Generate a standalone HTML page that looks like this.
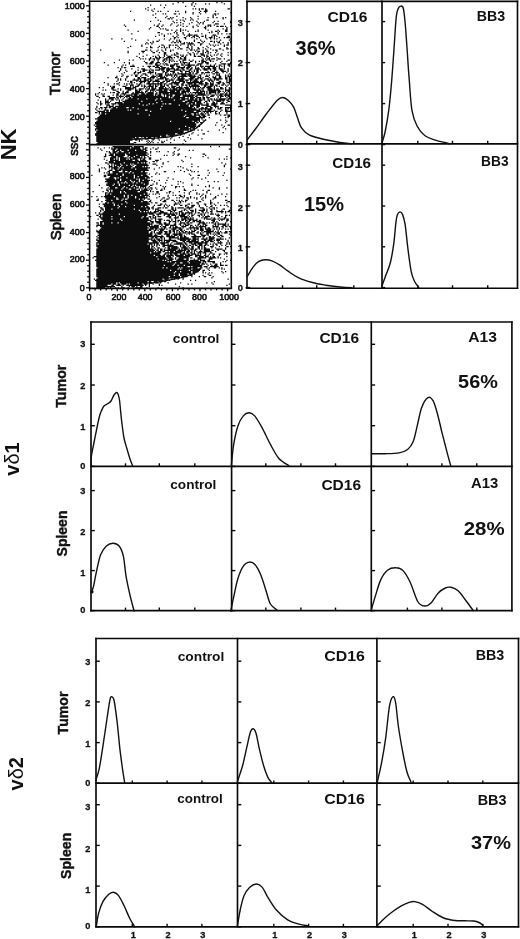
<!DOCTYPE html>
<html><head><meta charset="utf-8"><style>
html,body{margin:0;padding:0;background:#fff;}
svg{display:block;}
text{font-family:"Liberation Sans", Arial, Helvetica, sans-serif;fill:#111;}
</style></head><body>
<svg width="520" height="939" viewBox="0 0 520 939">
<defs><filter id="b" x="0" y="0" width="1" height="1"><feGaussianBlur stdDeviation="0.35"/></filter></defs><g filter="url(#b)"><path d="M130 139.3C140 139.1 150 138.7 165 137.4S184 133.4 190 131.4S200 125.5 206 119.5M150 283.4C160 281.8 170 280 178 278.4S191 275 195 273S201.5 268 202.5 263" fill="none" stroke="#0b0b0b" stroke-width="1.3"/><path transform="translate(90,2.625) scale(1.25)" fill="none" stroke="#0b0b0b" stroke-width="1" d="M70 0h1M74 0h1M82 0h1M101 0h1M105 0h1M66 1h1M81 1h1M84 1h1M92 1h1M95 1h1M107 1h1M48 2h1M56 2h1M60 2h1M81 2h1M76 3h1M83 3h1M46 4h1M59 4h1M44 5h1M51 5h1M82 5h1M84 5h1M87 5h1M89 5h2M92 5h1M110 5h2M46 6h1M49 6h1M87 6h1M92 6h2M32 7h1M50 7h1M54 7h1M56 7h1M62 7h1M68 7h1M70 7h1M76 7h1M88 7h1M91 7h3M100 7h1M76 8h1M82 8h1M87 8h1M92 8h1M112 8h1M52 9h1M58 9h1M60 9h1M67 9h2M71 9h1M82 9h1M88 9h1M99 9h2M102 9h1M50 10h1M98 10h1M100 10h1M61 11h1M69 11h1M86 11h1M98 11h1M52 12h1M60 12h1M64 12h1M66 12h1M74 12h1M80 12h1M94 12h1M98 12h1M101 12h1M106 12h1M108 12h1M62 13h2M65 13h1M76 13h1M81 13h1M86 13h1M106 13h1M35 14h1M54 14h1M69 14h1M72 14h1M74 14h1M80 14h1M82 14h1M93 14h2M48 15h1M56 15h1M66 15h1M75 15h1M85 15h1M91 15h1M99 15h1M102 15h1M112 15h1M67 16h1M69 16h1M72 16h1M81 16h1M86 16h1M88 16h1M90 16h1M98 16h1M112 16h1M55 17h1M65 17h1M74 17h1M79 17h1M87 17h1M90 17h1M100 17h3M107 17h1M27 18h1M51 18h1M54 18h1M58 18h1M64 18h1M70 18h1M72 18h1M85 18h1M94 18h3M99 18h1M28 19h1M53 19h2M57 19h1M69 19h1M74 19h1M77 19h1M82 19h1M86 19h1M92 19h1M94 19h1M96 19h1M101 19h2M104 19h3M108 19h1M112 19h1M48 20h1M55 20h1M82 20h1M91 20h2M109 20h1M47 21h1M56 21h1M58 21h1M60 21h1M72 21h1M92 21h1M106 21h1M109 21h1M30 22h1M61 22h2M65 22h1M69 22h1M72 22h1M74 22h1M76 22h1M86 22h1M94 22h1M102 22h1M108 22h2M38 23h1M68 23h1M72 23h1M78 23h1M84 23h1M86 23h1M97 23h1M100 23h2M103 23h1M108 23h2M54 24h2M67 24h1M69 24h1M74 24h1M95 24h1M97 24h1M102 24h1M33 25h1M57 25h1M62 25h1M64 25h1M69 25h1M74 25h1M79 25h1M89 25h1M102 25h1M105 25h1M109 25h1M111 25h2M55 26h1M59 26h1M70 26h1M75 26h1M78 26h4M83 26h3M92 26h1M98 26h3M52 27h1M59 27h1M66 27h1M69 27h1M77 27h1M79 27h1M82 27h2M85 27h2M89 27h2M92 27h1M97 27h1M99 27h1M101 27h1M110 27h2M67 28h2M70 28h1M75 28h2M81 28h1M83 28h1M87 28h1M92 28h1M95 28h3M99 28h1M103 28h1M107 28h1M109 28h3M17 29h1M25 29h1M33 29h1M59 29h1M64 29h1M67 29h1M76 29h1M85 29h1M93 29h1M96 29h1M99 29h1M101 29h1M112 29h1M36 30h1M46 30h1M55 30h1M63 30h1M69 30h1M71 30h1M83 30h1M88 30h1M104 30h1M111 30h1M27 31h1M50 31h1M53 31h2M66 31h1M69 31h1M71 31h2M83 31h1M89 31h1M91 31h1M96 31h2M99 31h1M101 31h1M103 31h1M112 31h1M45 32h1M48 32h1M50 32h1M65 32h1M67 32h2M70 32h1M72 32h1M75 32h1M77 32h1M79 32h1M81 32h1M86 32h2M90 32h1M99 32h1M102 32h2M106 32h1M110 32h1M112 32h1M44 33h1M46 33h1M49 33h1M73 33h3M78 33h5M88 33h2M95 33h1M104 33h1M110 33h1M41 34h1M57 34h2M63 34h2M66 34h1M68 34h2M72 34h1M78 34h1M80 34h1M83 34h1M88 34h1M96 34h1M98 34h1M100 34h1M102 34h1M107 34h1M109 34h2M32 35h1M41 35h1M48 35h1M55 35h1M59 35h1M63 35h1M70 35h1M78 35h1M81 35h1M93 35h1M99 35h1M107 35h1M30 36h1M45 36h1M48 36h2M54 36h1M57 36h1M59 36h1M61 36h1M63 36h1M68 36h1M71 36h1M77 36h2M81 36h1M86 36h1M90 36h1M94 36h1M109 36h1M60 37h1M70 37h1M72 37h2M79 37h1M81 37h1M86 37h2M92 37h1M96 37h1M103 37h2M109 37h2M112 37h1M8 38h1M44 38h2M48 38h1M54 38h1M57 38h1M60 38h1M64 38h1M66 38h1M77 38h1M80 38h2M83 38h1M85 38h1M90 38h1M93 38h1M98 38h1M100 38h2M106 38h1M30 39h1M41 39h3M49 39h1M53 39h1M58 39h1M64 39h1M84 39h1M86 39h2M90 39h1M93 39h2M101 39h1M30 40h1M42 40h1M50 40h2M55 40h1M59 40h2M69 40h1M78 40h1M82 40h1M86 40h1M90 40h1M92 40h1M94 40h1M96 40h1M100 40h1M110 40h1M112 40h1M39 41h1M59 41h2M67 41h1M69 41h2M79 41h2M83 41h1M85 41h1M88 41h3M94 41h1M102 41h1M105 41h1M45 42h1M54 42h1M59 42h1M61 42h1M65 42h1M67 42h2M72 42h1M74 42h1M77 42h1M80 42h1M83 42h1M89 42h3M93 42h1M96 42h1M99 42h1M101 42h1M104 42h1M110 42h1M37 43h1M42 43h1M50 43h1M52 43h1M55 43h1M59 43h1M62 43h3M69 43h2M73 43h2M76 43h1M83 43h2M86 43h3M91 43h1M93 43h2M97 43h1M105 43h1M39 44h1M48 44h1M52 44h2M55 44h2M58 44h1M61 44h5M67 44h1M70 44h1M72 44h1M75 44h2M89 44h1M93 44h1M95 44h1M101 44h1M40 45h1M42 45h1M44 45h1M47 45h2M50 45h2M53 45h3M59 45h3M63 45h1M65 45h1M72 45h2M75 45h2M90 45h1M92 45h1M94 45h2M97 45h3M102 45h3M107 45h1M23 46h1M31 46h1M34 46h1M47 46h1M51 46h1M54 46h1M58 46h2M61 46h1M63 46h2M66 46h1M71 46h1M74 46h3M79 46h1M82 46h1M89 46h2M93 46h1M95 46h2M101 46h1M110 46h2M43 47h1M49 47h2M54 47h1M58 47h1M60 47h1M63 47h1M65 47h1M67 47h1M69 47h1M72 47h1M74 47h1M80 47h2M84 47h1M87 47h1M89 47h4M96 47h1M98 47h1M105 47h1M109 47h1M11 48h1M19 48h1M27 48h1M31 48h1M44 48h2M48 48h3M53 48h3M59 48h1M63 48h1M72 48h1M74 48h4M79 48h1M84 48h1M89 48h2M92 48h3M104 48h1M112 48h1M31 49h1M45 49h1M47 49h3M52 49h2M56 49h1M58 49h1M60 49h2M67 49h4M73 49h1M75 49h1M78 49h2M86 49h4M93 49h2M100 49h1M105 49h4M110 49h3M14 50h1M26 50h1M28 50h1M34 50h1M52 50h4M59 50h1M61 50h2M64 50h4M69 50h1M73 50h2M76 50h8M85 50h2M88 50h1M96 50h1M99 50h1M103 50h2M107 50h1M110 50h2M25 51h1M32 51h4M42 51h1M46 51h3M50 51h2M53 51h2M56 51h2M64 51h3M69 51h3M75 51h1M78 51h3M84 51h1M88 51h3M92 51h8M101 51h1M103 51h1M105 51h1M107 51h1M111 51h1M22 52h1M25 52h1M27 52h2M38 52h1M47 52h1M52 52h4M57 52h4M62 52h1M65 52h2M70 52h6M77 52h3M81 52h1M84 52h1M86 52h1M89 52h1M91 52h1M94 52h2M98 52h3M103 52h1M107 52h1M24 53h1M33 53h1M41 53h3M48 53h1M55 53h5M61 53h7M69 53h2M73 53h2M77 53h2M80 53h2M84 53h4M90 53h7M98 53h3M103 53h3M107 53h1M110 53h1M24 54h1M28 54h1M38 54h1M42 54h4M47 54h1M49 54h2M52 54h4M57 54h2M61 54h3M67 54h6M74 54h2M79 54h2M83 54h1M85 54h2M88 54h1M91 54h3M96 54h1M99 54h2M104 54h3M110 54h1M23 55h1M29 55h1M36 55h1M40 55h1M42 55h2M47 55h2M50 55h1M58 55h2M61 55h2M64 55h4M72 55h2M76 55h4M81 55h1M83 55h1M85 55h2M94 55h1M98 55h2M101 55h1M105 55h4M110 55h1M27 56h1M35 56h2M38 56h3M46 56h5M52 56h1M58 56h1M60 56h2M66 56h2M70 56h1M73 56h1M76 56h1M79 56h2M82 56h1M85 56h2M89 56h2M92 56h4M97 56h1M100 56h3M106 56h1M109 56h1M25 57h1M35 57h1M38 57h1M42 57h3M48 57h1M52 57h1M54 57h4M60 57h1M62 57h1M64 57h1M66 57h1M68 57h1M70 57h11M82 57h1M84 57h2M89 57h1M91 57h1M98 57h2M101 57h1M103 57h1M111 57h1M26 58h1M33 58h1M36 58h2M41 58h1M44 58h2M50 58h1M53 58h1M55 58h3M60 58h6M67 58h3M73 58h4M78 58h4M83 58h1M87 58h2M93 58h1M95 58h1M101 58h3M108 58h1M110 58h1M112 58h1M21 59h1M25 59h1M29 59h2M36 59h2M40 59h1M46 59h1M49 59h4M54 59h4M59 59h1M61 59h1M65 59h1M67 59h1M69 59h1M71 59h7M79 59h6M86 59h1M88 59h1M92 59h3M98 59h1M100 59h1M103 59h2M108 59h1M110 59h3M14 60h1M20 60h2M29 60h1M38 60h2M41 60h4M48 60h4M53 60h1M56 60h5M66 60h1M68 60h1M70 60h2M73 60h2M80 60h4M86 60h3M90 60h1M95 60h1M98 60h3M103 60h2M108 60h2M111 60h1M22 61h1M24 61h1M28 61h1M35 61h1M38 61h3M43 61h2M46 61h3M50 61h1M54 61h5M60 61h3M65 61h1M67 61h1M70 61h6M79 61h4M84 61h3M88 61h2M92 61h3M96 61h1M99 61h7M108 61h2M111 61h2M22 62h1M24 62h1M28 62h1M34 62h5M40 62h1M43 62h4M48 62h2M52 62h3M60 62h2M63 62h4M69 62h6M76 62h3M80 62h2M83 62h3M89 62h1M91 62h1M94 62h4M99 62h1M101 62h2M109 62h1M111 62h2M21 63h1M30 63h1M32 63h2M37 63h1M39 63h6M46 63h3M50 63h6M58 63h2M61 63h3M66 63h1M68 63h1M71 63h5M77 63h1M80 63h1M82 63h5M88 63h3M95 63h1M97 63h2M103 63h2M109 63h1M111 63h2M11 64h1M23 64h1M32 64h2M35 64h1M40 64h2M43 64h1M46 64h2M50 64h1M54 64h1M56 64h3M61 64h1M65 64h7M74 64h2M77 64h13M92 64h2M96 64h1M98 64h1M101 64h4M106 64h1M109 64h3M14 65h1M19 65h1M21 65h2M27 65h1M29 65h1M31 65h1M33 65h1M37 65h1M39 65h2M45 65h13M59 65h2M63 65h3M67 65h4M73 65h2M78 65h4M83 65h2M87 65h4M92 65h3M96 65h3M102 65h2M106 65h2M111 65h1M14 66h1M23 66h1M29 66h1M32 66h3M38 66h2M41 66h1M43 66h1M47 66h2M50 66h1M52 66h1M54 66h1M56 66h2M59 66h1M61 66h2M65 66h1M69 66h2M73 66h2M76 66h2M79 66h1M81 66h6M89 66h1M91 66h3M96 66h3M100 66h2M105 66h2M108 66h1M110 66h1M112 66h1M16 67h1M18 67h2M26 67h3M32 67h1M34 67h1M36 67h3M41 67h1M43 67h2M46 67h5M52 67h2M56 67h4M62 67h1M65 67h4M71 67h1M73 67h1M77 67h1M79 67h9M91 67h2M94 67h4M99 67h1M101 67h1M103 67h1M109 67h1M7 68h1M10 68h1M17 68h3M28 68h5M34 68h3M43 68h1M45 68h1M47 68h1M49 68h2M52 68h1M55 68h4M60 68h1M63 68h1M65 68h3M69 68h5M75 68h4M80 68h1M82 68h1M84 68h1M86 68h1M88 68h1M90 68h2M93 68h4M99 68h1M104 68h2M108 68h1M111 68h1M17 69h2M22 69h1M24 69h1M28 69h7M36 69h1M39 69h4M44 69h1M46 69h2M49 69h4M55 69h8M64 69h1M66 69h4M71 69h4M76 69h4M82 69h3M86 69h2M89 69h2M94 69h4M99 69h1M101 69h2M104 69h3M108 69h1M111 69h2M10 70h1M12 70h1M18 70h3M24 70h1M30 70h3M36 70h2M39 70h2M45 70h2M48 70h4M53 70h5M59 70h3M63 70h10M74 70h2M77 70h3M83 70h6M90 70h1M94 70h10M108 70h4M21 71h2M26 71h1M29 71h2M36 71h4M41 71h1M44 71h2M48 71h1M50 71h1M52 71h1M55 71h7M64 71h4M69 71h3M73 71h7M85 71h2M88 71h4M93 71h1M95 71h6M102 71h3M106 71h1M108 71h1M110 71h2M7 72h1M16 72h1M18 72h2M22 72h2M26 72h1M28 72h3M34 72h1M36 72h7M44 72h1M46 72h5M53 72h1M55 72h17M73 72h4M78 72h1M80 72h1M82 72h8M91 72h1M93 72h1M95 72h6M102 72h2M107 72h1M109 72h1M111 72h1M4 73h1M6 73h1M9 73h1M11 73h1M21 73h2M25 73h4M33 73h6M41 73h3M45 73h6M52 73h2M55 73h2M58 73h5M64 73h11M76 73h1M79 73h1M81 73h1M84 73h1M86 73h6M93 73h1M95 73h2M100 73h1M102 73h1M104 73h3M108 73h2M111 73h2M4 74h1M10 74h1M18 74h1M21 74h2M24 74h1M27 74h1M29 74h5M35 74h3M39 74h12M52 74h1M54 74h3M59 74h1M61 74h5M68 74h5M74 74h10M85 74h8M94 74h1M97 74h3M101 74h1M103 74h3M107 74h5M5 75h2M10 75h2M14 75h2M21 75h1M23 75h4M28 75h4M33 75h25M59 75h1M61 75h2M64 75h2M67 75h5M74 75h9M84 75h2M90 75h1M93 75h1M96 75h3M102 75h1M104 75h3M108 75h1M110 75h2M7 76h1M15 76h5M21 76h2M24 76h1M27 76h1M29 76h1M31 76h2M34 76h29M64 76h1M66 76h10M78 76h1M80 76h4M85 76h4M90 76h2M93 76h3M102 76h1M104 76h1M109 76h1M111 76h2M12 77h1M15 77h4M20 77h1M22 77h1M26 77h1M30 77h8M39 77h6M46 77h7M54 77h2M57 77h15M73 77h6M80 77h3M84 77h2M87 77h2M90 77h2M94 77h1M96 77h2M99 77h1M101 77h1M103 77h6M110 77h3M6 78h1M12 78h1M14 78h1M17 78h2M21 78h1M23 78h1M25 78h1M28 78h24M53 78h14M68 78h8M78 78h8M87 78h3M91 78h1M94 78h2M97 78h1M99 78h9M109 78h2M8 79h1M12 79h3M16 79h1M23 79h1M26 79h15M42 79h15M58 79h16M76 79h6M83 79h6M92 79h2M95 79h1M98 79h1M101 79h4M106 79h1M110 79h2M5 80h1M8 80h1M12 80h4M20 80h6M27 80h26M54 80h24M79 80h5M85 80h4M91 80h1M93 80h1M98 80h2M101 80h1M105 80h2M109 80h1M6 81h1M8 81h2M12 81h1M14 81h1M17 81h4M22 81h17M40 81h7M48 81h2M51 81h7M59 81h1M61 81h2M65 81h12M78 81h3M82 81h2M85 81h5M93 81h2M97 81h5M104 81h4M8 82h1M13 82h3M18 82h1M23 82h19M43 82h2M46 82h25M72 82h7M80 82h8M89 82h6M97 82h4M108 82h5M5 83h1M13 83h1M15 83h4M20 83h37M58 83h21M80 83h3M85 83h3M93 83h4M99 83h4M112 83h1M5 84h1M8 84h2M11 84h3M15 84h2M18 84h3M22 84h7M31 84h3M35 84h47M83 84h1M85 84h2M89 84h2M92 84h2M96 84h2M100 84h1M102 84h1M104 84h2M108 84h5M4 85h1M7 85h1M9 85h1M12 85h1M17 85h21M39 85h17M57 85h28M87 85h11M102 85h3M108 85h1M110 85h1M112 85h1M5 86h1M11 86h4M16 86h14M31 86h1M33 86h11M46 86h27M74 86h14M89 86h1M92 86h1M94 86h3M99 86h1M105 86h1M108 86h2M112 86h1M6 87h6M13 87h2M16 87h32M49 87h27M77 87h6M85 87h4M90 87h9M100 87h2M104 87h1M108 87h5M4 88h2M7 88h1M9 88h78M89 88h1M91 88h1M93 88h2M96 88h1M100 88h1M103 88h1M109 88h1M7 89h1M9 89h3M13 89h25M39 89h42M83 89h2M86 89h1M88 89h3M92 89h1M94 89h1M100 89h2M103 89h1M109 89h1M8 90h39M48 90h28M77 90h5M83 90h5M89 90h3M94 90h2M104 90h1M107 90h2M110 90h2M7 91h68M76 91h9M87 91h2M90 91h3M110 91h2M6 92h71M79 92h13M95 92h1M108 92h1M110 92h1M4 93h84M89 93h1M6 94h82M90 94h1M92 94h1M104 94h1M108 94h1M5 95h59M65 95h17M83 95h3M87 95h1M109 95h1M4 96h80M85 96h2M88 96h2M101 96h1M108 96h1M4 97h81M3 98h1M5 98h80M87 98h1M100 98h1M105 98h1M110 98h2M4 99h72M77 99h8M86 99h2M107 99h1M5 100h74M80 100h4M85 100h1M106 100h1M4 101h67M72 101h9M82 101h2M108 101h1M4 102h1M6 102h73M80 102h2M83 102h1M86 102h1M89 102h1M103 102h1M5 103h70M78 103h3M94 103h1M5 104h70M76 104h2M82 104h1M106 104h1M4 105h64M70 105h4M75 105h1M81 105h1M90 105h2M4 106h57M62 106h8M72 106h1M79 106h1M86 106h1M5 107h51M57 107h4M64 107h3M74 107h1M5 108h31M37 108h2M41 108h1M43 108h2M46 108h3M51 108h1M54 108h2M61 108h1M65 108h1M71 108h1M78 108h1M5 109h29M35 109h6M44 109h2M49 109h3M54 109h1M64 109h1M80 109h1M89 109h1M5 110h29M36 110h2M39 110h1M41 110h1M46 110h1M50 110h1M55 110h1M61 110h1M67 110h1M75 110h1M5 111h27M39 111h1M45 111h1M47 111h1M49 111h1M57 111h1M59 111h1M76 111h1M6 112h26M35 112h2M46 112h1M48 112h1M50 112h1M54 112h1M57 112h2M64 112h1M5 113h30M45 113h1M47 113h1M74 113h1"/><path transform="translate(90,146.625) scale(1.25)" fill="none" stroke="#0b0b0b" stroke-width="1" d="M18 0h16M35 0h8M96 0h1M103 0h1M6 1h1M11 1h1M15 1h1M17 1h1M19 1h13M33 1h7M42 1h1M44 1h2M50 1h1M54 1h1M67 1h2M8 2h1M17 2h4M22 2h19M42 2h3M48 2h1M52 2h2M71 2h1M111 2h2M9 3h1M18 3h2M21 3h3M25 3h5M31 3h5M37 3h6M44 3h2M70 3h1M79 3h1M82 3h1M13 4h1M15 4h1M18 4h4M23 4h2M27 4h18M48 4h1M53 4h1M55 4h1M62 4h1M67 4h1M15 5h2M18 5h3M22 5h9M32 5h14M48 5h1M66 5h1M12 6h1M16 6h3M20 6h8M29 6h16M46 6h1M67 6h1M70 6h2M90 6h2M12 7h1M15 7h4M20 7h8M30 7h7M38 7h8M48 7h1M59 7h1M61 7h1M66 7h1M70 7h1M92 7h1M11 8h2M17 8h4M22 8h5M30 8h1M32 8h3M36 8h4M41 8h1M43 8h1M46 8h1M76 8h1M90 8h1M109 8h1M16 9h5M22 9h1M24 9h6M31 9h2M34 9h8M43 9h2M47 9h2M80 9h1M94 9h1M112 9h1M11 10h1M16 10h3M20 10h1M22 10h1M24 10h5M30 10h1M32 10h6M40 10h1M42 10h2M47 10h2M56 10h1M103 10h1M107 10h1M109 10h1M13 11h1M16 11h7M24 11h10M36 11h3M40 11h5M52 11h3M73 11h1M15 12h4M20 12h26M50 12h2M53 12h1M62 12h1M74 12h1M12 13h2M15 13h12M28 13h10M39 13h2M42 13h1M44 13h1M47 13h1M58 13h1M105 13h1M14 14h1M17 14h1M19 14h5M25 14h7M33 14h1M35 14h11M50 14h3M58 14h1M81 14h1M108 14h1M6 15h1M15 15h1M17 15h1M19 15h1M21 15h4M26 15h3M30 15h3M34 15h1M37 15h10M53 15h1M107 15h1M15 16h3M19 16h3M23 16h1M25 16h9M36 16h6M43 16h1M45 16h1M57 16h1M70 16h1M72 16h1M81 16h1M86 16h1M107 16h1M9 17h1M11 17h1M15 17h1M17 17h6M24 17h2M27 17h6M34 17h14M55 17h1M74 17h1M7 18h1M12 18h1M17 18h1M19 18h3M23 18h13M37 18h9M51 18h1M77 18h1M101 18h1M112 18h1M7 19h1M15 19h3M20 19h5M26 19h21M72 19h1M78 19h1M80 19h1M94 19h1M7 20h1M14 20h2M18 20h5M26 20h2M30 20h2M33 20h8M42 20h2M59 20h2M67 20h1M75 20h1M81 20h1M83 20h1M86 20h1M102 20h1M11 21h1M13 21h1M15 21h1M18 21h13M32 21h2M35 21h11M53 21h1M95 21h1M107 21h1M14 22h7M22 22h4M27 22h18M47 22h1M52 22h1M55 22h1M79 22h1M1 23h1M11 23h2M14 23h12M27 23h8M36 23h5M42 23h4M80 23h1M86 23h2M94 23h1M106 23h1M11 24h2M16 24h8M25 24h10M36 24h2M39 24h8M49 24h1M15 25h4M21 25h1M23 25h6M30 25h5M36 25h8M45 25h3M62 25h1M82 25h1M86 25h1M92 25h1M12 26h8M21 26h3M25 26h12M38 26h1M40 26h6M66 26h1M81 26h1M89 26h1M13 27h11M25 27h7M33 27h6M40 27h2M43 27h5M49 27h1M55 27h1M61 27h1M109 27h1M12 28h10M23 28h5M29 28h4M34 28h1M36 28h3M40 28h7M51 28h1M70 28h1M72 28h1M94 28h1M99 28h1M102 28h1M14 29h8M23 29h2M26 29h1M28 29h1M30 29h4M35 29h2M38 29h3M42 29h5M53 29h1M60 29h1M74 29h1M13 30h6M20 30h3M24 30h19M44 30h3M50 30h1M53 30h1M70 30h1M81 30h1M7 31h1M13 31h5M19 31h4M24 31h7M32 31h2M35 31h1M37 31h9M48 31h2M56 31h1M65 31h1M81 31h1M86 31h1M95 31h1M15 32h12M28 32h5M34 32h3M38 32h1M40 32h5M47 32h1M58 32h1M60 32h1M68 32h2M71 32h1M74 32h1M92 32h1M95 32h1M9 33h1M14 33h1M16 33h4M22 33h4M27 33h2M30 33h5M36 33h3M40 33h1M42 33h1M44 33h1M46 33h1M48 33h2M52 33h1M59 33h1M68 33h1M98 33h1M103 33h1M109 33h1M13 34h1M15 34h10M26 34h5M33 34h4M39 34h1M41 34h1M43 34h3M47 34h1M49 34h1M53 34h1M57 34h1M59 34h1M75 34h1M103 34h1M13 35h2M16 35h1M18 35h22M41 35h6M48 35h1M56 35h2M75 35h2M82 35h1M84 35h1M90 35h1M94 35h2M2 36h1M10 36h1M14 36h1M16 36h1M18 36h6M25 36h2M28 36h10M40 36h5M48 36h1M50 36h1M53 36h2M63 36h2M71 36h1M80 36h1M93 36h1M12 37h2M15 37h9M25 37h3M29 37h17M53 37h2M61 37h1M63 37h1M66 37h1M75 37h1M79 37h1M85 37h1M93 37h1M12 38h1M14 38h2M17 38h26M44 38h2M47 38h1M50 38h1M52 38h1M55 38h1M79 38h1M85 38h1M87 38h1M90 38h1M96 38h1M105 38h1M109 38h1M12 39h15M28 39h2M31 39h2M34 39h6M41 39h6M62 39h1M66 39h1M68 39h1M71 39h2M75 39h1M89 39h1M92 39h1M102 39h1M1 40h1M5 40h1M9 40h1M11 40h8M20 40h7M28 40h2M31 40h5M37 40h7M45 40h1M47 40h1M55 40h1M62 40h1M72 40h2M75 40h1M80 40h1M88 40h1M92 40h1M100 40h1M108 40h1M12 41h9M22 41h8M31 41h5M37 41h9M53 41h1M58 41h2M63 41h1M69 41h1M71 41h1M74 41h1M77 41h2M80 41h1M83 41h1M85 41h1M90 41h1M92 41h1M99 41h2M6 42h1M13 42h8M23 42h3M27 42h1M30 42h9M40 42h2M43 42h1M46 42h2M57 42h1M61 42h2M78 42h1M85 42h1M89 42h1M98 42h1M5 43h2M12 43h5M18 43h7M26 43h17M48 43h1M56 43h1M59 43h2M65 43h2M69 43h1M71 43h1M73 43h1M76 43h2M90 43h1M96 43h1M108 43h2M9 44h1M13 44h15M29 44h12M42 44h4M47 44h2M58 44h3M67 44h1M71 44h2M74 44h1M76 44h1M87 44h2M96 44h1M110 44h2M12 45h2M15 45h3M19 45h10M30 45h17M49 45h1M52 45h2M68 45h1M70 45h1M72 45h1M81 45h1M85 45h2M96 45h2M102 45h1M109 45h1M112 45h1M7 46h1M10 46h9M20 46h5M26 46h22M56 46h2M60 46h1M67 46h3M71 46h1M78 46h2M86 46h1M91 46h2M96 46h1M99 46h1M11 47h8M20 47h2M23 47h12M36 47h10M51 47h1M54 47h3M59 47h1M61 47h1M63 47h1M67 47h1M72 47h2M76 47h2M81 47h3M87 47h1M92 47h1M97 47h1M100 47h1M104 47h1M107 47h1M109 47h1M7 48h1M11 48h12M24 48h4M29 48h12M42 48h2M45 48h2M50 48h1M59 48h1M62 48h1M65 48h1M76 48h1M78 48h1M81 48h2M87 48h1M93 48h1M96 48h2M110 48h1M8 49h2M12 49h10M23 49h25M49 49h2M54 49h3M58 49h1M60 49h2M65 49h2M68 49h1M70 49h5M77 49h5M88 49h3M95 49h1M98 49h2M101 49h1M112 49h1M9 50h2M12 50h5M18 50h17M36 50h9M46 50h2M50 50h1M52 50h3M65 50h2M68 50h1M75 50h2M79 50h1M84 50h1M90 50h2M93 50h1M96 50h2M99 50h1M106 50h2M8 51h1M10 51h1M12 51h27M40 51h7M52 51h1M54 51h3M62 51h3M66 51h3M73 51h1M75 51h1M77 51h1M80 51h3M84 51h1M87 51h5M93 51h1M97 51h1M101 51h1M105 51h1M111 51h2M8 52h1M11 52h29M41 52h2M44 52h1M46 52h1M48 52h1M51 52h4M56 52h3M64 52h2M67 52h1M71 52h3M78 52h1M81 52h2M84 52h1M89 52h2M93 52h1M96 52h2M101 52h6M108 52h1M110 52h2M4 53h1M7 53h1M10 53h43M55 53h7M64 53h1M66 53h1M68 53h2M71 53h1M73 53h2M76 53h6M84 53h1M86 53h2M90 53h1M92 53h1M94 53h1M97 53h1M105 53h1M108 53h1M112 53h1M7 54h16M24 54h22M47 54h4M53 54h4M59 54h9M69 54h1M71 54h1M73 54h4M79 54h1M81 54h1M83 54h1M88 54h2M91 54h1M96 54h3M100 54h1M102 54h1M5 55h2M8 55h1M10 55h36M50 55h2M54 55h1M59 55h1M62 55h2M65 55h4M71 55h5M78 55h1M81 55h2M86 55h2M89 55h1M91 55h1M94 55h1M101 55h3M108 55h2M111 55h1M0 56h1M7 56h2M10 56h7M18 56h9M28 56h14M43 56h2M47 56h2M50 56h1M52 56h1M54 56h3M61 56h4M68 56h1M70 56h1M72 56h6M79 56h1M81 56h1M87 56h1M90 56h1M92 56h4M102 56h1M105 56h1M108 56h1M8 57h33M42 57h5M48 57h1M50 57h3M63 57h2M67 57h4M73 57h1M75 57h4M80 57h1M82 57h1M89 57h1M91 57h3M97 57h1M99 57h1M103 57h1M107 57h2M6 58h1M9 58h8M18 58h6M25 58h22M49 58h1M52 58h1M54 58h4M65 58h1M68 58h1M73 58h4M78 58h5M85 58h1M91 58h1M93 58h4M98 58h3M102 58h1M104 58h4M109 58h2M10 59h15M26 59h23M52 59h1M55 59h2M59 59h1M61 59h3M65 59h1M68 59h1M70 59h2M73 59h2M76 59h2M79 59h2M82 59h4M87 59h2M97 59h3M103 59h1M105 59h1M109 59h2M8 60h38M48 60h3M52 60h5M63 60h2M66 60h3M70 60h1M72 60h1M76 60h1M78 60h2M82 60h2M85 60h4M90 60h1M98 60h2M101 60h1M109 60h1M112 60h1M5 61h2M8 61h2M11 61h6M18 61h4M23 61h25M49 61h2M53 61h4M59 61h2M63 61h1M68 61h1M72 61h4M77 61h2M80 61h2M87 61h5M93 61h1M95 61h1M97 61h2M100 61h1M102 61h1M108 61h1M6 62h1M8 62h2M11 62h39M55 62h3M59 62h5M67 62h2M71 62h2M75 62h2M78 62h2M86 62h2M90 62h3M99 62h2M102 62h7M110 62h1M5 63h43M49 63h1M51 63h4M57 63h1M60 63h3M64 63h5M72 63h1M74 63h1M76 63h3M80 63h2M84 63h1M86 63h1M88 63h1M90 63h1M92 63h2M98 63h1M100 63h1M102 63h1M106 63h3M110 63h1M5 64h1M8 64h38M47 64h8M56 64h1M58 64h3M64 64h1M66 64h1M68 64h2M73 64h4M80 64h1M82 64h1M85 64h1M87 64h6M98 64h5M105 64h2M108 64h2M111 64h2M9 65h38M48 65h7M57 65h1M59 65h2M63 65h2M66 65h7M74 65h1M79 65h8M88 65h2M92 65h1M94 65h2M98 65h1M101 65h1M103 65h1M106 65h1M112 65h1M8 66h38M47 66h4M52 66h2M55 66h5M61 66h1M65 66h4M71 66h3M77 66h2M80 66h1M83 66h1M85 66h2M88 66h3M92 66h5M99 66h1M101 66h1M103 66h1M105 66h1M108 66h1M110 66h1M112 66h1M5 67h1M7 67h42M51 67h2M54 67h1M56 67h3M63 67h2M66 67h2M69 67h2M72 67h2M75 67h1M81 67h1M83 67h2M88 67h3M93 67h4M98 67h1M102 67h1M5 68h42M49 68h1M51 68h1M55 68h3M59 68h3M63 68h2M66 68h2M69 68h1M71 68h1M73 68h2M76 68h2M79 68h1M81 68h3M86 68h1M89 68h1M91 68h8M100 68h1M102 68h1M104 68h1M108 68h2M111 68h2M6 69h41M48 69h2M51 69h1M53 69h5M60 69h2M63 69h2M67 69h1M69 69h1M71 69h2M74 69h3M78 69h4M85 69h2M88 69h1M90 69h1M93 69h4M99 69h1M101 69h3M105 69h1M107 69h3M112 69h1M7 70h43M52 70h1M54 70h3M59 70h5M66 70h8M77 70h1M79 70h1M81 70h3M88 70h2M93 70h2M96 70h1M98 70h1M100 70h1M102 70h2M111 70h1M6 71h44M51 71h3M57 71h1M61 71h3M65 71h1M67 71h3M71 71h3M75 71h1M83 71h2M89 71h4M94 71h1M99 71h1M101 71h1M104 71h2M112 71h1M5 72h1M7 72h52M61 72h7M70 72h1M72 72h2M75 72h2M81 72h8M90 72h2M95 72h2M98 72h1M102 72h2M105 72h2M6 73h41M49 73h2M52 73h2M56 73h2M59 73h1M63 73h8M72 73h7M82 73h3M86 73h1M90 73h1M93 73h1M95 73h5M104 73h1M111 73h1M5 74h1M7 74h43M51 74h1M53 74h3M57 74h1M59 74h1M63 74h2M70 74h11M82 74h5M89 74h5M95 74h4M101 74h6M108 74h1M5 75h42M49 75h4M54 75h4M59 75h10M72 75h5M78 75h2M81 75h4M86 75h1M91 75h2M94 75h4M99 75h1M101 75h3M110 75h1M6 76h41M50 76h4M55 76h1M57 76h1M59 76h1M61 76h3M66 76h4M74 76h2M77 76h10M89 76h2M92 76h3M96 76h3M102 76h1M104 76h1M110 76h1M5 77h50M56 77h7M65 77h1M69 77h5M75 77h2M79 77h3M83 77h11M99 77h1M102 77h4M109 77h1M111 77h1M5 78h1M7 78h39M47 78h3M51 78h1M53 78h2M57 78h3M62 78h1M64 78h1M67 78h8M76 78h2M81 78h4M86 78h4M92 78h2M96 78h1M98 78h1M100 78h2M104 78h1M109 78h1M111 78h1M5 79h43M49 79h1M51 79h1M53 79h1M55 79h1M58 79h9M72 79h1M74 79h2M77 79h1M79 79h2M82 79h1M84 79h2M87 79h3M91 79h2M94 79h1M98 79h1M101 79h1M105 79h1M108 79h1M5 80h43M49 80h2M53 80h1M58 80h2M62 80h8M72 80h1M74 80h3M78 80h1M81 80h2M86 80h2M89 80h1M91 80h1M96 80h3M103 80h1M109 80h2M112 80h1M6 81h42M49 81h1M51 81h1M54 81h2M60 81h1M62 81h2M65 81h6M73 81h5M79 81h1M81 81h2M86 81h2M89 81h1M91 81h2M97 81h1M100 81h1M108 81h1M5 82h46M52 82h1M54 82h1M56 82h2M59 82h1M62 82h8M71 82h1M73 82h1M75 82h4M80 82h3M84 82h2M87 82h1M89 82h1M91 82h5M101 82h5M108 82h1M5 83h47M53 83h2M56 83h2M59 83h10M70 83h7M78 83h2M81 83h1M83 83h2M88 83h1M91 83h5M97 83h2M102 83h1M106 83h2M5 84h46M52 84h1M54 84h3M58 84h2M62 84h1M64 84h3M68 84h6M75 84h1M77 84h3M81 84h1M83 84h1M85 84h1M87 84h3M91 84h6M100 84h1M107 84h1M5 85h43M49 85h8M60 85h13M74 85h2M77 85h2M80 85h2M83 85h1M86 85h3M90 85h3M96 85h2M108 85h2M112 85h1M5 86h51M59 86h2M62 86h1M64 86h2M67 86h3M72 86h5M78 86h2M81 86h4M86 86h1M88 86h1M92 86h1M95 86h1M98 86h2M103 86h2M107 86h1M109 86h1M5 87h46M52 87h5M58 87h2M61 87h6M68 87h7M76 87h6M84 87h5M91 87h2M94 87h1M98 87h1M103 87h1M3 88h50M54 88h6M61 88h4M66 88h1M69 88h11M84 88h2M87 88h4M92 88h3M96 88h1M98 88h2M102 88h1M109 88h1M2 89h1M5 89h56M62 89h4M68 89h1M71 89h8M80 89h2M86 89h7M95 89h6M102 89h1M104 89h1M5 90h49M55 90h7M63 90h4M68 90h1M70 90h5M77 90h2M83 90h1M86 90h3M95 90h3M107 90h1M4 91h54M59 91h1M61 91h5M69 91h10M80 91h7M88 91h4M94 91h2M109 91h1M112 91h1M5 92h57M63 92h1M65 92h13M79 92h10M90 92h3M94 92h6M106 92h1M108 92h1M5 93h63M69 93h3M74 93h5M80 93h9M90 93h1M92 93h1M98 93h2M104 93h1M5 94h62M68 94h20M90 94h2M93 94h1M96 94h1M100 94h2M104 94h1M5 95h54M60 95h6M67 95h3M71 95h4M76 95h13M94 95h1M97 95h1M99 95h3M104 95h3M108 95h2M5 96h73M80 96h1M82 96h7M91 96h3M96 96h7M6 97h52M59 97h2M62 97h9M72 97h1M74 97h12M89 97h1M93 97h1M95 97h1M99 97h2M103 97h1M105 97h1M5 98h65M71 98h1M73 98h8M82 98h7M94 98h1M105 98h1M107 98h1M5 99h59M65 99h14M80 99h8M90 99h2M95 99h1M5 100h63M69 100h3M73 100h8M82 100h5M90 100h1M105 100h1M108 100h1M5 101h62M68 101h13M82 101h2M90 101h1M92 101h1M95 101h1M97 101h1M106 101h1M5 102h66M72 102h6M79 102h3M83 102h1M94 102h1M5 103h62M68 103h3M72 103h7M80 103h2M90 103h1M95 103h2M5 104h58M64 104h8M73 104h5M81 104h1M87 104h1M91 104h2M98 104h1M6 105h66M74 105h1M97 105h1M3 106h1M5 106h53M59 106h4M65 106h1M67 106h1M70 106h1M74 106h1M110 106h1M4 107h55M60 107h2M63 107h1M80 107h1M84 107h1M5 108h41M47 108h2M51 108h3M55 108h3M59 108h2M99 108h1M5 109h16M22 109h1M24 109h14M39 109h11M52 109h3M56 109h1M62 109h1M72 109h1M93 109h1M97 109h1M5 110h12M18 110h3M22 110h2M25 110h4M30 110h1M32 110h10M43 110h3M47 110h1M50 110h1M55 110h1M68 110h1M78 110h1M81 110h1M98 110h1M111 110h1M5 111h9M17 111h2M21 111h4M26 111h1M29 111h14M44 111h1M47 111h1M55 111h1M57 111h1M109 111h1M5 112h15M25 112h1M31 112h1M33 112h3M37 112h1M40 112h2M47 112h1M71 112h1M5 113h7M14 113h1M16 113h1M20 113h1M22 113h1M25 113h3M30 113h1M34 113h1M36 113h6M45 113h1M54 113h1M74 113h1"/></g>
<line x1="89.6" y1="0.5" x2="89.6" y2="288.8" stroke="#080808" stroke-width="1.6"/><line x1="231.3" y1="0.5" x2="231.3" y2="288.8" stroke="#080808" stroke-width="1.6"/><line x1="88.8" y1="1.3" x2="232.1" y2="1.3" stroke="#080808" stroke-width="1.6"/><line x1="88.8" y1="144.6" x2="232.1" y2="144.6" stroke="#080808" stroke-width="1.8"/><line x1="88.8" y1="288.4" x2="232.1" y2="288.4" stroke="#080808" stroke-width="1.6"/><line x1="246.2" y1="1.3" x2="518.3" y2="1.3" stroke="#080808" stroke-width="1.65"/><line x1="246.2" y1="143.8" x2="518.3" y2="143.8" stroke="#080808" stroke-width="1.65"/><line x1="246.2" y1="288.2" x2="518.3" y2="288.2" stroke="#080808" stroke-width="1.65"/><line x1="247" y1="0.5" x2="247" y2="289" stroke="#080808" stroke-width="1.65"/><line x1="382" y1="0.5" x2="382" y2="289" stroke="#080808" stroke-width="1.65"/><line x1="517.5" y1="0.5" x2="517.5" y2="289" stroke="#080808" stroke-width="1.65"/><line x1="86" y1="143.8" x2="89.6" y2="143.8" stroke="#080808" stroke-width="1.3"/><line x1="87.2" y1="138.3" x2="89.6" y2="138.3" stroke="#080808" stroke-width="1.3"/><line x1="87.2" y1="132.8" x2="89.6" y2="132.8" stroke="#080808" stroke-width="1.3"/><line x1="87.2" y1="127.2" x2="89.6" y2="127.2" stroke="#080808" stroke-width="1.3"/><line x1="87.2" y1="121.7" x2="89.6" y2="121.7" stroke="#080808" stroke-width="1.3"/><line x1="86" y1="116.2" x2="89.6" y2="116.2" stroke="#080808" stroke-width="1.3"/><line x1="87.2" y1="110.7" x2="89.6" y2="110.7" stroke="#080808" stroke-width="1.3"/><line x1="87.2" y1="105.2" x2="89.6" y2="105.2" stroke="#080808" stroke-width="1.3"/><line x1="87.2" y1="99.6" x2="89.6" y2="99.6" stroke="#080808" stroke-width="1.3"/><line x1="87.2" y1="94.1" x2="89.6" y2="94.1" stroke="#080808" stroke-width="1.3"/><line x1="86" y1="88.6" x2="89.6" y2="88.6" stroke="#080808" stroke-width="1.3"/><line x1="87.2" y1="83.1" x2="89.6" y2="83.1" stroke="#080808" stroke-width="1.3"/><line x1="87.2" y1="77.6" x2="89.6" y2="77.6" stroke="#080808" stroke-width="1.3"/><line x1="87.2" y1="72" x2="89.6" y2="72" stroke="#080808" stroke-width="1.3"/><line x1="87.2" y1="66.5" x2="89.6" y2="66.5" stroke="#080808" stroke-width="1.3"/><line x1="86" y1="61" x2="89.6" y2="61" stroke="#080808" stroke-width="1.3"/><line x1="87.2" y1="55.5" x2="89.6" y2="55.5" stroke="#080808" stroke-width="1.3"/><line x1="87.2" y1="50" x2="89.6" y2="50" stroke="#080808" stroke-width="1.3"/><line x1="87.2" y1="44.4" x2="89.6" y2="44.4" stroke="#080808" stroke-width="1.3"/><line x1="87.2" y1="38.9" x2="89.6" y2="38.9" stroke="#080808" stroke-width="1.3"/><line x1="86" y1="33.4" x2="89.6" y2="33.4" stroke="#080808" stroke-width="1.3"/><line x1="87.2" y1="27.9" x2="89.6" y2="27.9" stroke="#080808" stroke-width="1.3"/><line x1="87.2" y1="22.4" x2="89.6" y2="22.4" stroke="#080808" stroke-width="1.3"/><line x1="87.2" y1="16.8" x2="89.6" y2="16.8" stroke="#080808" stroke-width="1.3"/><line x1="87.2" y1="11.3" x2="89.6" y2="11.3" stroke="#080808" stroke-width="1.3"/><line x1="86" y1="5.8" x2="89.6" y2="5.8" stroke="#080808" stroke-width="1.3"/><line x1="86" y1="287.8" x2="89.6" y2="287.8" stroke="#080808" stroke-width="1.3"/><line x1="87.2" y1="282.3" x2="89.6" y2="282.3" stroke="#080808" stroke-width="1.3"/><line x1="87.2" y1="276.8" x2="89.6" y2="276.8" stroke="#080808" stroke-width="1.3"/><line x1="87.2" y1="271.2" x2="89.6" y2="271.2" stroke="#080808" stroke-width="1.3"/><line x1="87.2" y1="265.7" x2="89.6" y2="265.7" stroke="#080808" stroke-width="1.3"/><line x1="86" y1="260.2" x2="89.6" y2="260.2" stroke="#080808" stroke-width="1.3"/><line x1="87.2" y1="254.7" x2="89.6" y2="254.7" stroke="#080808" stroke-width="1.3"/><line x1="87.2" y1="249.2" x2="89.6" y2="249.2" stroke="#080808" stroke-width="1.3"/><line x1="87.2" y1="243.6" x2="89.6" y2="243.6" stroke="#080808" stroke-width="1.3"/><line x1="87.2" y1="238.1" x2="89.6" y2="238.1" stroke="#080808" stroke-width="1.3"/><line x1="86" y1="232.6" x2="89.6" y2="232.6" stroke="#080808" stroke-width="1.3"/><line x1="87.2" y1="227.1" x2="89.6" y2="227.1" stroke="#080808" stroke-width="1.3"/><line x1="87.2" y1="221.6" x2="89.6" y2="221.6" stroke="#080808" stroke-width="1.3"/><line x1="87.2" y1="216" x2="89.6" y2="216" stroke="#080808" stroke-width="1.3"/><line x1="87.2" y1="210.5" x2="89.6" y2="210.5" stroke="#080808" stroke-width="1.3"/><line x1="86" y1="205" x2="89.6" y2="205" stroke="#080808" stroke-width="1.3"/><line x1="87.2" y1="199.5" x2="89.6" y2="199.5" stroke="#080808" stroke-width="1.3"/><line x1="87.2" y1="194" x2="89.6" y2="194" stroke="#080808" stroke-width="1.3"/><line x1="87.2" y1="188.4" x2="89.6" y2="188.4" stroke="#080808" stroke-width="1.3"/><line x1="87.2" y1="182.9" x2="89.6" y2="182.9" stroke="#080808" stroke-width="1.3"/><line x1="86" y1="177.4" x2="89.6" y2="177.4" stroke="#080808" stroke-width="1.3"/><line x1="87.2" y1="171.9" x2="89.6" y2="171.9" stroke="#080808" stroke-width="1.3"/><line x1="87.2" y1="166.4" x2="89.6" y2="166.4" stroke="#080808" stroke-width="1.3"/><line x1="87.2" y1="160.8" x2="89.6" y2="160.8" stroke="#080808" stroke-width="1.3"/><line x1="87.2" y1="155.3" x2="89.6" y2="155.3" stroke="#080808" stroke-width="1.3"/><line x1="86" y1="149.8" x2="89.6" y2="149.8" stroke="#080808" stroke-width="1.3"/><line x1="89.6" y1="288.4" x2="89.6" y2="291.2" stroke="#080808" stroke-width="1.3"/><line x1="95.1" y1="288.4" x2="95.1" y2="290.4" stroke="#080808" stroke-width="1.3"/><line x1="100.6" y1="288.4" x2="100.6" y2="290.4" stroke="#080808" stroke-width="1.3"/><line x1="106.2" y1="288.4" x2="106.2" y2="290.4" stroke="#080808" stroke-width="1.3"/><line x1="111.7" y1="288.4" x2="111.7" y2="290.4" stroke="#080808" stroke-width="1.3"/><line x1="117.2" y1="288.4" x2="117.2" y2="291.2" stroke="#080808" stroke-width="1.3"/><line x1="122.7" y1="288.4" x2="122.7" y2="290.4" stroke="#080808" stroke-width="1.3"/><line x1="128.2" y1="288.4" x2="128.2" y2="290.4" stroke="#080808" stroke-width="1.3"/><line x1="133.8" y1="288.4" x2="133.8" y2="290.4" stroke="#080808" stroke-width="1.3"/><line x1="139.3" y1="288.4" x2="139.3" y2="290.4" stroke="#080808" stroke-width="1.3"/><line x1="144.8" y1="288.4" x2="144.8" y2="291.2" stroke="#080808" stroke-width="1.3"/><line x1="150.3" y1="288.4" x2="150.3" y2="290.4" stroke="#080808" stroke-width="1.3"/><line x1="155.8" y1="288.4" x2="155.8" y2="290.4" stroke="#080808" stroke-width="1.3"/><line x1="161.4" y1="288.4" x2="161.4" y2="290.4" stroke="#080808" stroke-width="1.3"/><line x1="166.9" y1="288.4" x2="166.9" y2="290.4" stroke="#080808" stroke-width="1.3"/><line x1="172.4" y1="288.4" x2="172.4" y2="291.2" stroke="#080808" stroke-width="1.3"/><line x1="177.9" y1="288.4" x2="177.9" y2="290.4" stroke="#080808" stroke-width="1.3"/><line x1="183.4" y1="288.4" x2="183.4" y2="290.4" stroke="#080808" stroke-width="1.3"/><line x1="189" y1="288.4" x2="189" y2="290.4" stroke="#080808" stroke-width="1.3"/><line x1="194.5" y1="288.4" x2="194.5" y2="290.4" stroke="#080808" stroke-width="1.3"/><line x1="200" y1="288.4" x2="200" y2="291.2" stroke="#080808" stroke-width="1.3"/><line x1="205.5" y1="288.4" x2="205.5" y2="290.4" stroke="#080808" stroke-width="1.3"/><line x1="211" y1="288.4" x2="211" y2="290.4" stroke="#080808" stroke-width="1.3"/><line x1="216.6" y1="288.4" x2="216.6" y2="290.4" stroke="#080808" stroke-width="1.3"/><line x1="222.1" y1="288.4" x2="222.1" y2="290.4" stroke="#080808" stroke-width="1.3"/><line x1="227.6" y1="288.4" x2="227.6" y2="291.2" stroke="#080808" stroke-width="1.3"/><text transform="translate(84.6,9) scale(1.060,1)" font-size="8.4" font-weight="normal" text-anchor="end" stroke="#111" stroke-width="0.55">1000</text><text transform="translate(84.6,36.6) scale(1.060,1)" font-size="8.4" font-weight="normal" text-anchor="end" stroke="#111" stroke-width="0.55">800</text><text transform="translate(84.6,64.2) scale(1.060,1)" font-size="8.4" font-weight="normal" text-anchor="end" stroke="#111" stroke-width="0.55">600</text><text transform="translate(84.6,91.8) scale(1.060,1)" font-size="8.4" font-weight="normal" text-anchor="end" stroke="#111" stroke-width="0.55">400</text><text transform="translate(84.6,119.8) scale(1.060,1)" font-size="8.4" font-weight="normal" text-anchor="end" stroke="#111" stroke-width="0.55">200</text><text transform="translate(84.6,179.4) scale(1.060,1)" font-size="8.4" font-weight="normal" text-anchor="end" stroke="#111" stroke-width="0.55">800</text><text transform="translate(84.6,207.1) scale(1.060,1)" font-size="8.4" font-weight="normal" text-anchor="end" stroke="#111" stroke-width="0.55">600</text><text transform="translate(84.6,234.7) scale(1.060,1)" font-size="8.4" font-weight="normal" text-anchor="end" stroke="#111" stroke-width="0.55">400</text><text transform="translate(84.6,262.3) scale(1.060,1)" font-size="8.4" font-weight="normal" text-anchor="end" stroke="#111" stroke-width="0.55">200</text><text transform="translate(84.6,290.5) scale(1.060,1)" font-size="8.4" font-weight="normal" text-anchor="end" stroke="#111" stroke-width="0.55">0</text><text transform="translate(89.1,300.2) scale(1.060,1)" font-size="8.4" font-weight="normal" text-anchor="middle" stroke="#111" stroke-width="0.55">0</text><text transform="translate(118.9,300.2) scale(1.060,1)" font-size="8.4" font-weight="normal" text-anchor="middle" stroke="#111" stroke-width="0.55">200</text><text transform="translate(145.1,300.2) scale(1.060,1)" font-size="8.4" font-weight="normal" text-anchor="middle" stroke="#111" stroke-width="0.55">400</text><text transform="translate(173.1,300.2) scale(1.060,1)" font-size="8.4" font-weight="normal" text-anchor="middle" stroke="#111" stroke-width="0.55">600</text><text transform="translate(199.4,300.2) scale(1.060,1)" font-size="8.4" font-weight="normal" text-anchor="middle" stroke="#111" stroke-width="0.55">800</text><text transform="translate(229.1,300.2) scale(1.060,1)" font-size="8.4" font-weight="normal" text-anchor="middle" stroke="#111" stroke-width="0.55">1000</text><line x1="245.6" y1="144.6" x2="250.2" y2="144.6" stroke="#080808" stroke-width="1.4"/><line x1="245.6" y1="103.6" x2="250.2" y2="103.6" stroke="#080808" stroke-width="1.4"/><line x1="245.6" y1="62.6" x2="250.2" y2="62.6" stroke="#080808" stroke-width="1.4"/><line x1="245.6" y1="21.6" x2="250.2" y2="21.6" stroke="#080808" stroke-width="1.4"/><line x1="245.6" y1="287.6" x2="250.2" y2="287.6" stroke="#080808" stroke-width="1.4"/><line x1="245.6" y1="246.8" x2="250.2" y2="246.8" stroke="#080808" stroke-width="1.4"/><line x1="245.6" y1="206" x2="250.2" y2="206" stroke="#080808" stroke-width="1.4"/><line x1="245.6" y1="165.2" x2="250.2" y2="165.2" stroke="#080808" stroke-width="1.4"/><line x1="382" y1="144.6" x2="385.2" y2="144.6" stroke="#080808" stroke-width="1.4"/><line x1="382" y1="103.6" x2="385.2" y2="103.6" stroke="#080808" stroke-width="1.4"/><line x1="382" y1="62.6" x2="385.2" y2="62.6" stroke="#080808" stroke-width="1.4"/><line x1="382" y1="21.6" x2="385.2" y2="21.6" stroke="#080808" stroke-width="1.4"/><line x1="382" y1="287.6" x2="385.2" y2="287.6" stroke="#080808" stroke-width="1.4"/><line x1="382" y1="246.8" x2="385.2" y2="246.8" stroke="#080808" stroke-width="1.4"/><line x1="382" y1="206" x2="385.2" y2="206" stroke="#080808" stroke-width="1.4"/><line x1="382" y1="165.2" x2="385.2" y2="165.2" stroke="#080808" stroke-width="1.4"/><line x1="282.5" y1="143.8" x2="282.5" y2="140.8" stroke="#080808" stroke-width="1.4"/><line x1="316.7" y1="143.8" x2="316.7" y2="140.8" stroke="#080808" stroke-width="1.4"/><line x1="353.8" y1="143.8" x2="353.8" y2="140.8" stroke="#080808" stroke-width="1.4"/><line x1="282.5" y1="288.2" x2="282.5" y2="285.2" stroke="#080808" stroke-width="1.4"/><line x1="316.7" y1="288.2" x2="316.7" y2="285.2" stroke="#080808" stroke-width="1.4"/><line x1="353.8" y1="288.2" x2="353.8" y2="285.2" stroke="#080808" stroke-width="1.4"/><line x1="417.8" y1="143.8" x2="417.8" y2="140.8" stroke="#080808" stroke-width="1.4"/><line x1="452.5" y1="143.8" x2="452.5" y2="140.8" stroke="#080808" stroke-width="1.4"/><line x1="487.7" y1="143.8" x2="487.7" y2="140.8" stroke="#080808" stroke-width="1.4"/><line x1="417.8" y1="288.2" x2="417.8" y2="285.2" stroke="#080808" stroke-width="1.4"/><line x1="452.5" y1="288.2" x2="452.5" y2="285.2" stroke="#080808" stroke-width="1.4"/><line x1="487.7" y1="288.2" x2="487.7" y2="285.2" stroke="#080808" stroke-width="1.4"/><text x="240.3" y="25.7" font-size="9.3" font-weight="bold" text-anchor="middle" stroke="#1a1a1a" stroke-width="0.3">3</text><text x="240.3" y="66.4" font-size="9.3" font-weight="bold" text-anchor="middle" stroke="#1a1a1a" stroke-width="0.3">2</text><text x="240.3" y="107.1" font-size="9.3" font-weight="bold" text-anchor="middle" stroke="#1a1a1a" stroke-width="0.3">1</text><text x="240.3" y="147.9" font-size="9.3" font-weight="bold" text-anchor="middle" stroke="#1a1a1a" stroke-width="0.3">0</text><text x="240.3" y="169.5" font-size="9.3" font-weight="bold" text-anchor="middle" stroke="#1a1a1a" stroke-width="0.3">3</text><text x="240.3" y="211.2" font-size="9.3" font-weight="bold" text-anchor="middle" stroke="#1a1a1a" stroke-width="0.3">2</text><text x="240.3" y="250.5" font-size="9.3" font-weight="bold" text-anchor="middle" stroke="#1a1a1a" stroke-width="0.3">1</text><text x="240.3" y="290.6" font-size="9.3" font-weight="bold" text-anchor="middle" stroke="#1a1a1a" stroke-width="0.3">0</text><text transform="translate(367.5,21.9) scale(1.070,1)" font-size="14.6" font-weight="bold" text-anchor="end">CD16</text><text x="295.6" y="55.4" font-size="20" font-weight="bold" text-anchor="start">36%</text><text x="505.2" y="21.4" font-size="14.2" font-weight="bold" text-anchor="end">BB3</text><text transform="translate(371,168.2) scale(1.040,1)" font-size="14.6" font-weight="bold" text-anchor="end">CD16</text><text x="304" y="211.4" font-size="20" font-weight="bold" text-anchor="start">15%</text><text transform="translate(508.6,166.3) scale(0.970,1)" font-size="14.2" font-weight="bold" text-anchor="end">BB3</text><text transform="translate(15.9,144.4) rotate(-90)" font-size="22" font-weight="bold" text-anchor="middle">NK</text><text transform="translate(60.1,73.6) rotate(-90)" font-size="15.1" font-weight="normal" text-anchor="middle" stroke="#111" stroke-width="0.75">Tumor</text><text transform="translate(61,217) rotate(-90)" font-size="14.9" font-weight="normal" text-anchor="middle" stroke="#111" stroke-width="0.75">Spleen</text><text transform="translate(78.4,146) rotate(-90)" font-size="13" font-weight="normal" text-anchor="middle" stroke="#111" stroke-width="0.6">ssc</text><path d="M247.2 139.8C248.6 137.9 252.6 132.8 255.8 128.5C259 124.2 262.9 118.4 266.5 113.7C270.1 109 274.6 102.9 277.3 100.2C280 97.5 280.9 97.5 282.7 97.5C284.5 97.5 286.3 98.6 288.1 100.2C289.9 101.8 291.9 104 293.5 106.9C295.1 109.8 296.2 114.2 297.5 117.7C298.8 121.2 299.5 125 301.5 127.9C303.5 130.8 305.6 133.2 309.6 135.2C313.7 137.2 320.7 138.6 325.8 139.8C330.9 141 335.6 141.8 340 142.5C344.4 143.2 350 143.6 352 143.8" fill="none" stroke="#111" stroke-width="1.4" stroke-linejoin="round" stroke-linecap="round"/><path d="M382.1 142.7C382.6 140.8 384.1 136.8 385.2 131.5C386.3 126.2 387.7 118.2 388.7 110.7C389.7 103.2 390.3 96.3 391.2 86.5C392.1 76.7 393 62.9 393.8 51.9C394.6 40.9 395.3 27.8 395.9 20.8C396.5 13.8 396.8 12.4 397.6 10C398.4 7.5 399.8 6.3 400.8 6.1C401.8 5.9 402.7 6 403.4 8.7C404.1 11.4 404.5 16.4 405.1 22.5C405.7 28.6 406.1 35.8 406.8 45C407.5 54.2 408.2 67 409.1 77.9C410 88.9 410.6 102.6 412 110.7C413.4 118.8 415 122.1 417.2 126.3C419.4 130.5 422 133.5 425 135.8C428 138.1 431.9 138.9 435.4 140.1C438.8 141.2 443.3 142.1 445.7 142.7C448.1 143.3 449.3 143.6 450 143.8" fill="none" stroke="#111" stroke-width="1.4" stroke-linejoin="round" stroke-linecap="round"/><path d="M247.2 276.5C248.2 274.9 251.2 269.6 253.1 267.1C255 264.6 256.5 262.9 258.5 261.7C260.5 260.5 263 259.9 265.2 259.8C267.4 259.7 269.4 260 271.9 260.9C274.4 261.8 277.3 263.5 280 265.2C282.7 266.9 285 269.1 288.1 271.2C291.2 273.3 294.8 276 298.8 277.9C302.8 279.8 307.8 281.3 312.3 282.5C316.8 283.7 321.2 284.4 325.8 285.2C330.4 285.9 335.6 286.6 340 287C344.4 287.4 350 287.7 352 287.8" fill="none" stroke="#111" stroke-width="1.4" stroke-linejoin="round" stroke-linecap="round"/><path d="M381.7 286.7C382.4 284.7 384.7 278.6 386.1 274.6C387.6 270.6 389.1 267.7 390.4 262.5C391.7 257.3 392.9 250 393.8 243.4C394.7 236.8 395.3 227.4 395.9 222.7C396.5 217.9 396.6 216.7 397.3 214.9C398 213.1 399 212 399.9 211.9C400.8 211.8 401.6 212.3 402.5 214.4C403.4 216.5 404.2 219 405.1 224.4C406 229.8 406.7 239.1 407.7 246.9C408.7 254.7 410 265.3 411.1 271.1C412.2 276.9 413.3 278.8 414.6 281.5C415.9 284.2 418.2 286.6 418.9 287.6" fill="none" stroke="#111" stroke-width="1.4" stroke-linejoin="round" stroke-linecap="round"/><line x1="90.2" y1="322" x2="512.7" y2="322" stroke="#080808" stroke-width="1.65"/><line x1="90.2" y1="466.3" x2="512.7" y2="466.3" stroke="#080808" stroke-width="1.65"/><line x1="90.2" y1="610.6" x2="512.7" y2="610.6" stroke="#080808" stroke-width="1.65"/><line x1="91" y1="321.2" x2="91" y2="611.4" stroke="#080808" stroke-width="1.65"/><line x1="231.6" y1="321.2" x2="231.6" y2="611.4" stroke="#080808" stroke-width="1.65"/><line x1="371.3" y1="321.2" x2="371.3" y2="611.4" stroke="#080808" stroke-width="1.65"/><line x1="511.9" y1="321.2" x2="511.9" y2="611.4" stroke="#080808" stroke-width="1.65"/><line x1="91" y1="466.4" x2="94.8" y2="466.4" stroke="#080808" stroke-width="1.4"/><line x1="91" y1="425.7" x2="94.8" y2="425.7" stroke="#080808" stroke-width="1.4"/><line x1="91" y1="385" x2="94.8" y2="385" stroke="#080808" stroke-width="1.4"/><line x1="91" y1="344.3" x2="94.8" y2="344.3" stroke="#080808" stroke-width="1.4"/><line x1="91" y1="610.6" x2="94.8" y2="610.6" stroke="#080808" stroke-width="1.4"/><line x1="91" y1="570.6" x2="94.8" y2="570.6" stroke="#080808" stroke-width="1.4"/><line x1="91" y1="530.6" x2="94.8" y2="530.6" stroke="#080808" stroke-width="1.4"/><line x1="91" y1="490.6" x2="94.8" y2="490.6" stroke="#080808" stroke-width="1.4"/><line x1="231.6" y1="466.4" x2="235.4" y2="466.4" stroke="#080808" stroke-width="1.4"/><line x1="231.6" y1="425.7" x2="235.4" y2="425.7" stroke="#080808" stroke-width="1.4"/><line x1="231.6" y1="385" x2="235.4" y2="385" stroke="#080808" stroke-width="1.4"/><line x1="231.6" y1="344.3" x2="235.4" y2="344.3" stroke="#080808" stroke-width="1.4"/><line x1="231.6" y1="610.6" x2="235.4" y2="610.6" stroke="#080808" stroke-width="1.4"/><line x1="231.6" y1="570.6" x2="235.4" y2="570.6" stroke="#080808" stroke-width="1.4"/><line x1="231.6" y1="530.6" x2="235.4" y2="530.6" stroke="#080808" stroke-width="1.4"/><line x1="231.6" y1="490.6" x2="235.4" y2="490.6" stroke="#080808" stroke-width="1.4"/><line x1="371.3" y1="466.4" x2="375.1" y2="466.4" stroke="#080808" stroke-width="1.4"/><line x1="371.3" y1="425.7" x2="375.1" y2="425.7" stroke="#080808" stroke-width="1.4"/><line x1="371.3" y1="385" x2="375.1" y2="385" stroke="#080808" stroke-width="1.4"/><line x1="371.3" y1="344.3" x2="375.1" y2="344.3" stroke="#080808" stroke-width="1.4"/><line x1="371.3" y1="610.6" x2="375.1" y2="610.6" stroke="#080808" stroke-width="1.4"/><line x1="371.3" y1="570.6" x2="375.1" y2="570.6" stroke="#080808" stroke-width="1.4"/><line x1="371.3" y1="530.6" x2="375.1" y2="530.6" stroke="#080808" stroke-width="1.4"/><line x1="371.3" y1="490.6" x2="375.1" y2="490.6" stroke="#080808" stroke-width="1.4"/><line x1="125.5" y1="466.3" x2="125.5" y2="463.3" stroke="#080808" stroke-width="1.4"/><line x1="159.3" y1="466.3" x2="159.3" y2="463.3" stroke="#080808" stroke-width="1.4"/><line x1="194.8" y1="466.3" x2="194.8" y2="463.3" stroke="#080808" stroke-width="1.4"/><line x1="125.5" y1="610.6" x2="125.5" y2="607.6" stroke="#080808" stroke-width="1.4"/><line x1="159.3" y1="610.6" x2="159.3" y2="607.6" stroke="#080808" stroke-width="1.4"/><line x1="194.8" y1="610.6" x2="194.8" y2="607.6" stroke="#080808" stroke-width="1.4"/><line x1="265.8" y1="466.3" x2="265.8" y2="463.3" stroke="#080808" stroke-width="1.4"/><line x1="300.9" y1="466.3" x2="300.9" y2="463.3" stroke="#080808" stroke-width="1.4"/><line x1="335.5" y1="466.3" x2="335.5" y2="463.3" stroke="#080808" stroke-width="1.4"/><line x1="265.8" y1="610.6" x2="265.8" y2="607.6" stroke="#080808" stroke-width="1.4"/><line x1="300.9" y1="610.6" x2="300.9" y2="607.6" stroke="#080808" stroke-width="1.4"/><line x1="335.5" y1="610.6" x2="335.5" y2="607.6" stroke="#080808" stroke-width="1.4"/><line x1="407.4" y1="466.3" x2="407.4" y2="463.3" stroke="#080808" stroke-width="1.4"/><line x1="441.9" y1="466.3" x2="441.9" y2="463.3" stroke="#080808" stroke-width="1.4"/><line x1="476.8" y1="466.3" x2="476.8" y2="463.3" stroke="#080808" stroke-width="1.4"/><line x1="407.4" y1="610.6" x2="407.4" y2="607.6" stroke="#080808" stroke-width="1.4"/><line x1="441.9" y1="610.6" x2="441.9" y2="607.6" stroke="#080808" stroke-width="1.4"/><line x1="476.8" y1="610.6" x2="476.8" y2="607.6" stroke="#080808" stroke-width="1.4"/><text x="82.9" y="347.1" font-size="9.2" font-weight="bold" text-anchor="middle" stroke="#1a1a1a" stroke-width="0.3">3</text><text x="82.9" y="389.4" font-size="9.2" font-weight="bold" text-anchor="middle" stroke="#1a1a1a" stroke-width="0.3">2</text><text x="82.9" y="430.2" font-size="9.2" font-weight="bold" text-anchor="middle" stroke="#1a1a1a" stroke-width="0.3">1</text><text x="82.9" y="469.3" font-size="9.2" font-weight="bold" text-anchor="middle" stroke="#1a1a1a" stroke-width="0.3">0</text><text x="82.9" y="493.7" font-size="9.2" font-weight="bold" text-anchor="middle" stroke="#1a1a1a" stroke-width="0.3">3</text><text x="82.9" y="535.4" font-size="9.2" font-weight="bold" text-anchor="middle" stroke="#1a1a1a" stroke-width="0.3">2</text><text x="82.9" y="575.7" font-size="9.2" font-weight="bold" text-anchor="middle" stroke="#1a1a1a" stroke-width="0.3">1</text><text x="82.9" y="613" font-size="9.2" font-weight="bold" text-anchor="middle" stroke="#1a1a1a" stroke-width="0.3">0</text><text transform="translate(219.4,343.2) scale(1.020,1)" font-size="13.5" font-weight="bold" text-anchor="end">control</text><text transform="translate(359,343.2) scale(1.090,1)" font-size="14.2" font-weight="bold" text-anchor="end">CD16</text><text transform="translate(497,342) scale(1.120,1)" font-size="14" font-weight="bold" text-anchor="end">A13</text><text transform="translate(458.1,387.9) scale(1.045,1)" font-size="19" font-weight="bold" text-anchor="start">56%</text><text transform="translate(216.4,489.4) scale(1.010,1)" font-size="13.5" font-weight="bold" text-anchor="end">control</text><text transform="translate(361,490) scale(1.090,1)" font-size="14.2" font-weight="bold" text-anchor="end">CD16</text><text transform="translate(498.2,488) scale(1.060,1)" font-size="14" font-weight="bold" text-anchor="end">A13</text><text transform="translate(463.7,534.7) scale(1.075,1)" font-size="19" font-weight="bold" text-anchor="start">28%</text><text transform="translate(19,459) rotate(-90)" font-size="20" font-weight="bold" text-anchor="middle">v<tspan font-weight="normal">δ</tspan>1</text><text transform="translate(66,386.2) rotate(-90)" font-size="14.2" font-weight="bold" text-anchor="middle" stroke="#111" stroke-width="0.4">Tumor</text><text transform="translate(66.9,533.5) rotate(-90)" font-size="14.0" font-weight="bold" text-anchor="middle" stroke="#111" stroke-width="0.4">Spleen</text><path d="M91.2 465C91.2 463.5 90.9 460.2 91.4 456C92 451.8 93.5 445.1 94.5 440C95.5 434.9 96.6 429.3 97.4 425.5C98.2 421.7 98.7 419.4 99.3 417C99.9 414.6 100.5 412.8 101.3 411C102.1 409.2 102.9 407.2 104 406C105.1 404.8 106.8 404.3 108 403.5C109.2 402.7 110 402.4 111 401C112 399.6 113.1 396.4 114 395C114.9 393.6 115.8 392.7 116.5 392.5C117.2 392.3 117.5 392.8 118 394C118.5 395.2 119.1 397.3 119.5 400C119.9 402.7 120.1 406 120.5 410C120.9 414 121.4 419.3 122 424C122.6 428.7 123.2 433.8 124 438C124.8 442.2 126 445.5 127 449C128 452.5 129.1 456.2 130 459C130.9 461.8 132.1 464.4 132.5 465.5" fill="none" stroke="#111" stroke-width="1.4" stroke-linejoin="round" stroke-linecap="round"/><path d="M231.4 464.8C231.8 461.4 232.6 450.9 233.7 444.4C234.8 437.9 236.3 430.8 237.9 426C239.5 421.2 241.6 417.8 243.5 415.6C245.4 413.4 247.3 412.6 249.2 412.7C251.1 412.8 252.8 413.7 254.9 416.1C257 418.6 259.3 422.7 261.9 427.4C264.5 432.1 267.6 439.2 270.4 444.4C273.2 449.6 275.8 455 278.9 458.5C282 462 287.1 464.4 288.8 465.6" fill="none" stroke="#111" stroke-width="1.4" stroke-linejoin="round" stroke-linecap="round"/><path d="M371.4 453.7C373.7 453.7 380.4 453.8 385 453.7C389.6 453.6 395.3 453.6 399.1 452.9C402.9 452.2 405.2 451.4 407.6 449.5C410 447.6 411.6 445.8 413.2 441.6C414.8 437.5 416.1 430.3 417.5 424.6C418.9 418.9 420 412.1 421.7 407.6C423.4 403.1 426 398.9 427.9 397.7C429.8 396.5 431.4 398 433 400.6C434.6 403.2 435.8 407.9 437.3 413.3C438.8 418.7 440.5 426.5 442.1 433.1C443.8 439.7 445.8 447.4 447.2 452.9C448.6 458.4 450.2 463.8 450.8 466" fill="none" stroke="#111" stroke-width="1.4" stroke-linejoin="round" stroke-linecap="round"/><path d="M91.4 592.6C91.8 591.4 92.9 589.1 93.7 585.6C94.5 582.1 95.3 576.6 96.5 571.4C97.7 566.2 99 558.7 100.7 554.5C102.4 550.3 104.4 547.9 106.4 546C108.4 544.1 110.8 543.2 112.9 543.2C115 543.2 117.4 543.9 119.1 546C120.8 548.1 122.1 550.7 123.3 555.9C124.5 561.1 125 570.3 126.2 577.1C127.4 583.9 129.1 591.2 130.4 596.9C131.7 602.5 133.5 608.6 134.1 611" fill="none" stroke="#111" stroke-width="1.4" stroke-linejoin="round" stroke-linecap="round"/><circle cx="92" cy="591.8" r="1.6" fill="#111"/><path d="M230.8 611C231.3 608.6 232.5 602.3 233.7 596.9C234.9 591.5 236.3 583.7 237.9 578.5C239.5 573.3 241.6 568.5 243.5 565.8C245.4 563.1 247.3 562.3 249.2 562.1C251.1 561.9 253 562.4 254.9 564.4C256.8 566.4 258.6 569.8 260.5 574.3C262.4 578.8 264.6 586.2 266.2 591.2C267.8 596.2 268.5 600.8 270.4 604C272.3 607.2 276.3 609.4 277.5 610.5" fill="none" stroke="#111" stroke-width="1.4" stroke-linejoin="round" stroke-linecap="round"/><path d="M371.4 609.6C372 607.5 373.6 601.9 375.1 596.9C376.7 591.9 378.6 584.4 380.7 579.9C382.8 575.4 385.2 572 387.8 570C390.4 568 393.7 567.6 396.3 567.8C398.9 567.9 401 568.4 403.3 570.9C405.6 573.4 407.9 577.5 410.4 582.7C412.8 587.9 415.6 598.1 418 602C420.4 605.9 422.8 605.8 425 606C427.2 606.2 428.8 605.2 431 603C433.2 600.8 435.9 595.5 438.3 593C440.7 590.5 443.2 589 445.3 588C447.4 587 448.9 586.8 451 587.3C453.1 587.8 455.8 588.8 458.1 590.8C460.5 592.8 462.6 596.2 465.1 599.5C467.6 602.8 471.9 608.7 473.2 610.5" fill="none" stroke="#111" stroke-width="1.4" stroke-linejoin="round" stroke-linecap="round"/><line x1="95.2" y1="638.5" x2="519.3" y2="638.5" stroke="#080808" stroke-width="1.65"/><line x1="95.2" y1="783.1" x2="519.3" y2="783.1" stroke="#080808" stroke-width="1.65"/><line x1="95.2" y1="926.8" x2="519.3" y2="926.8" stroke="#080808" stroke-width="1.65"/><line x1="96" y1="637.7" x2="96" y2="927.6" stroke="#080808" stroke-width="1.65"/><line x1="237.5" y1="637.7" x2="237.5" y2="927.6" stroke="#080808" stroke-width="1.65"/><line x1="376.9" y1="637.7" x2="376.9" y2="927.6" stroke="#080808" stroke-width="1.65"/><line x1="518.5" y1="637.7" x2="518.5" y2="927.6" stroke="#080808" stroke-width="1.65"/><line x1="96" y1="783.3" x2="99.8" y2="783.3" stroke="#080808" stroke-width="1.4"/><line x1="96" y1="742.6" x2="99.8" y2="742.6" stroke="#080808" stroke-width="1.4"/><line x1="96" y1="701.9" x2="99.8" y2="701.9" stroke="#080808" stroke-width="1.4"/><line x1="96" y1="661.2" x2="99.8" y2="661.2" stroke="#080808" stroke-width="1.4"/><line x1="96" y1="926.8" x2="99.8" y2="926.8" stroke="#080808" stroke-width="1.4"/><line x1="96" y1="886.1" x2="99.8" y2="886.1" stroke="#080808" stroke-width="1.4"/><line x1="96" y1="845.4" x2="99.8" y2="845.4" stroke="#080808" stroke-width="1.4"/><line x1="96" y1="804.7" x2="99.8" y2="804.7" stroke="#080808" stroke-width="1.4"/><line x1="237.5" y1="783.3" x2="241.3" y2="783.3" stroke="#080808" stroke-width="1.4"/><line x1="237.5" y1="742.6" x2="241.3" y2="742.6" stroke="#080808" stroke-width="1.4"/><line x1="237.5" y1="701.9" x2="241.3" y2="701.9" stroke="#080808" stroke-width="1.4"/><line x1="237.5" y1="661.2" x2="241.3" y2="661.2" stroke="#080808" stroke-width="1.4"/><line x1="237.5" y1="926.8" x2="241.3" y2="926.8" stroke="#080808" stroke-width="1.4"/><line x1="237.5" y1="886.1" x2="241.3" y2="886.1" stroke="#080808" stroke-width="1.4"/><line x1="237.5" y1="845.4" x2="241.3" y2="845.4" stroke="#080808" stroke-width="1.4"/><line x1="237.5" y1="804.7" x2="241.3" y2="804.7" stroke="#080808" stroke-width="1.4"/><line x1="376.9" y1="783.3" x2="380.7" y2="783.3" stroke="#080808" stroke-width="1.4"/><line x1="376.9" y1="742.6" x2="380.7" y2="742.6" stroke="#080808" stroke-width="1.4"/><line x1="376.9" y1="701.9" x2="380.7" y2="701.9" stroke="#080808" stroke-width="1.4"/><line x1="376.9" y1="661.2" x2="380.7" y2="661.2" stroke="#080808" stroke-width="1.4"/><line x1="376.9" y1="926.8" x2="380.7" y2="926.8" stroke="#080808" stroke-width="1.4"/><line x1="376.9" y1="886.1" x2="380.7" y2="886.1" stroke="#080808" stroke-width="1.4"/><line x1="376.9" y1="845.4" x2="380.7" y2="845.4" stroke="#080808" stroke-width="1.4"/><line x1="376.9" y1="804.7" x2="380.7" y2="804.7" stroke="#080808" stroke-width="1.4"/><line x1="132.3" y1="783.5" x2="132.3" y2="780.5" stroke="#080808" stroke-width="1.4"/><line x1="167.1" y1="783.5" x2="167.1" y2="780.5" stroke="#080808" stroke-width="1.4"/><line x1="201.9" y1="783.5" x2="201.9" y2="780.5" stroke="#080808" stroke-width="1.4"/><line x1="132.3" y1="926.8" x2="132.3" y2="923.8" stroke="#080808" stroke-width="1.4"/><line x1="167.1" y1="926.8" x2="167.1" y2="923.8" stroke="#080808" stroke-width="1.4"/><line x1="201.9" y1="926.8" x2="201.9" y2="923.8" stroke="#080808" stroke-width="1.4"/><line x1="273.8" y1="783.5" x2="273.8" y2="780.5" stroke="#080808" stroke-width="1.4"/><line x1="308.6" y1="783.5" x2="308.6" y2="780.5" stroke="#080808" stroke-width="1.4"/><line x1="343.4" y1="783.5" x2="343.4" y2="780.5" stroke="#080808" stroke-width="1.4"/><line x1="273.8" y1="926.8" x2="273.8" y2="923.8" stroke="#080808" stroke-width="1.4"/><line x1="308.6" y1="926.8" x2="308.6" y2="923.8" stroke="#080808" stroke-width="1.4"/><line x1="343.4" y1="926.8" x2="343.4" y2="923.8" stroke="#080808" stroke-width="1.4"/><line x1="413.2" y1="783.5" x2="413.2" y2="780.5" stroke="#080808" stroke-width="1.4"/><line x1="448" y1="783.5" x2="448" y2="780.5" stroke="#080808" stroke-width="1.4"/><line x1="482.8" y1="783.5" x2="482.8" y2="780.5" stroke="#080808" stroke-width="1.4"/><line x1="413.2" y1="926.8" x2="413.2" y2="923.8" stroke="#080808" stroke-width="1.4"/><line x1="448" y1="926.8" x2="448" y2="923.8" stroke="#080808" stroke-width="1.4"/><line x1="482.8" y1="926.8" x2="482.8" y2="923.8" stroke="#080808" stroke-width="1.4"/><text x="87.8" y="664.5" font-size="9.2" font-weight="bold" text-anchor="middle" stroke="#1a1a1a" stroke-width="0.3">3</text><text x="87.8" y="706" font-size="9.2" font-weight="bold" text-anchor="middle" stroke="#1a1a1a" stroke-width="0.3">2</text><text x="87.8" y="746.9" font-size="9.2" font-weight="bold" text-anchor="middle" stroke="#1a1a1a" stroke-width="0.3">1</text><text x="87.8" y="786.1" font-size="9.2" font-weight="bold" text-anchor="middle" stroke="#1a1a1a" stroke-width="0.3">0</text><text x="87.8" y="809.6" font-size="9.2" font-weight="bold" text-anchor="middle" stroke="#1a1a1a" stroke-width="0.3">3</text><text x="87.8" y="851.6" font-size="9.2" font-weight="bold" text-anchor="middle" stroke="#1a1a1a" stroke-width="0.3">2</text><text x="87.8" y="892.5" font-size="9.2" font-weight="bold" text-anchor="middle" stroke="#1a1a1a" stroke-width="0.3">1</text><text x="87.8" y="929" font-size="9.2" font-weight="bold" text-anchor="middle" stroke="#1a1a1a" stroke-width="0.3">0</text><text x="133.3" y="937.9" font-size="9.2" font-weight="bold" text-anchor="middle" stroke="#1a1a1a" stroke-width="0.3">1</text><text x="168.1" y="937.9" font-size="9.2" font-weight="bold" text-anchor="middle" stroke="#1a1a1a" stroke-width="0.3">2</text><text x="202.9" y="937.9" font-size="9.2" font-weight="bold" text-anchor="middle" stroke="#1a1a1a" stroke-width="0.3">3</text><text x="274.8" y="937.9" font-size="9.2" font-weight="bold" text-anchor="middle" stroke="#1a1a1a" stroke-width="0.3">1</text><text x="309.6" y="937.9" font-size="9.2" font-weight="bold" text-anchor="middle" stroke="#1a1a1a" stroke-width="0.3">2</text><text x="344.4" y="937.9" font-size="9.2" font-weight="bold" text-anchor="middle" stroke="#1a1a1a" stroke-width="0.3">3</text><text x="414.2" y="937.9" font-size="9.2" font-weight="bold" text-anchor="middle" stroke="#1a1a1a" stroke-width="0.3">1</text><text x="449" y="937.9" font-size="9.2" font-weight="bold" text-anchor="middle" stroke="#1a1a1a" stroke-width="0.3">2</text><text x="483.8" y="937.9" font-size="9.2" font-weight="bold" text-anchor="middle" stroke="#1a1a1a" stroke-width="0.3">3</text><text transform="translate(224.3,660.9) scale(1.020,1)" font-size="13.5" font-weight="bold" text-anchor="end">control</text><text transform="translate(364.9,660.9) scale(1.120,1)" font-size="14.2" font-weight="bold" text-anchor="end">CD16</text><text transform="translate(504.2,660) scale(1.020,1)" font-size="14" font-weight="bold" text-anchor="end">BB3</text><text transform="translate(222.8,803.2) scale(0.995,1)" font-size="13.5" font-weight="bold" text-anchor="end">control</text><text transform="translate(364.9,804) scale(1.120,1)" font-size="14.2" font-weight="bold" text-anchor="end">CD16</text><text transform="translate(506.5,804.9) scale(1.030,1)" font-size="14" font-weight="bold" text-anchor="end">BB3</text><text transform="translate(471,848.7) scale(1.050,1)" font-size="19" font-weight="bold" text-anchor="start">37%</text><text transform="translate(22.9,773.7) rotate(-90)" font-size="20" font-weight="bold" text-anchor="middle">v<tspan font-weight="normal">δ</tspan>2</text><text transform="translate(68.2,713) rotate(-90)" font-size="14.1" font-weight="bold" text-anchor="middle" stroke="#111" stroke-width="0.4">Tumor</text><text transform="translate(70.6,855.8) rotate(-90)" font-size="14.1" font-weight="bold" text-anchor="middle" stroke="#111" stroke-width="0.4">Spleen</text><path d="M95.8 780.2C96.4 778.3 98 774.5 99.2 768.9C100.4 763.2 101.6 754.8 102.9 746.3C104.2 737.8 105.9 725.8 107.1 718C108.3 710.2 109.2 703.1 110 699.6C110.8 696.1 111.2 696.6 111.9 696.8C112.6 697 113.4 697 114.2 701C115 705 116 712.8 117 720.8C118 728.8 119 740.9 119.9 749.1C120.9 757.4 121.9 764.6 122.7 770.3C123.5 775.9 124.4 780.9 124.7 783" fill="none" stroke="#111" stroke-width="1.4" stroke-linejoin="round" stroke-linecap="round"/><path d="M237.4 781.6C238.2 779 240.9 771.6 242.5 766C244.1 760.4 245.4 753.4 246.7 747.7C248 742.1 249.3 735.3 250.4 732.1C251.5 728.9 252.2 728.5 253.2 728.7C254.1 728.9 255.1 730.1 256.1 733.5C257.1 736.9 258.1 743.7 259.4 749.1C260.7 754.5 262.3 761.3 263.7 766C265.1 770.7 266.6 774.6 267.9 777.4C269.2 780.1 271 781.6 271.6 782.5" fill="none" stroke="#111" stroke-width="1.4" stroke-linejoin="round" stroke-linecap="round"/><path d="M377.2 782.5C377.9 779.3 380.1 770.7 381.5 763.2C382.9 755.8 384.4 747.2 385.7 737.8C387 728.4 388.2 713.5 389.4 706.7C390.6 699.9 391.8 697.5 392.8 696.8C393.8 696.1 394.7 697.4 395.6 702.4C396.5 707.4 397.2 718.2 398.4 726.5C399.6 734.8 401.3 744.4 402.7 751.9C404.1 759.4 405.5 766.6 406.9 771.7C408.3 776.8 410.5 780.7 411.2 782.5" fill="none" stroke="#111" stroke-width="1.4" stroke-linejoin="round" stroke-linecap="round"/><path d="M96.4 925.6C96.8 923.5 97.6 916.9 98.7 912.9C99.8 908.9 101.3 904.7 102.9 901.6C104.5 898.5 106.8 896.1 108.5 894.5C110.2 892.9 111.8 892.1 113.4 892.2C115.1 892.4 116.6 893.1 118.4 895.4C120.2 897.7 122.2 901.9 124.1 905.8C126 909.6 128 915 129.8 918.5C131.6 922 134 925.6 134.8 927" fill="none" stroke="#111" stroke-width="1.4" stroke-linejoin="round" stroke-linecap="round"/><path d="M237.4 925.6C237.9 923 239.1 915 240.2 910C241.3 905 242.3 899.7 243.9 895.9C245.5 892.1 247.4 889.4 249.5 887.4C251.6 885.4 254.5 884 256.6 884C258.7 884 260.4 885.2 262.3 887.4C264.2 889.6 265.5 893.5 267.9 897.3C270.2 901.1 273.1 906.2 276.4 910C279.7 913.8 283.9 917.5 287.7 919.9C291.5 922.3 295.7 923.2 299 924.2C302.3 925.2 306.1 925.4 307.5 925.6" fill="none" stroke="#111" stroke-width="1.4" stroke-linejoin="round" stroke-linecap="round"/><path d="M377.2 925.6C378.4 924.4 381.7 920.9 384.3 918.5C386.9 916.1 390 913.6 392.8 911.5C395.6 909.4 398.5 907.4 401.3 905.8C404.1 904.2 407.6 902.8 409.8 902.1C412.1 901.4 412.7 901.2 414.8 901.6C416.9 902 419.6 902.8 422.5 904.4C425.4 906 428.9 909.2 432.4 911.5C435.9 913.8 439.9 916.5 443.7 918C447.5 919.5 451.4 920 455 920.5C458.6 921 461.9 920.7 465 920.8C468.1 920.9 471.5 920.7 473.8 921C476.1 921.3 477.5 921.8 479 922.5C480.5 923.2 482.3 924.9 483 925.4" fill="none" stroke="#111" stroke-width="1.4" stroke-linejoin="round" stroke-linecap="round"/>
</svg></body></html>
